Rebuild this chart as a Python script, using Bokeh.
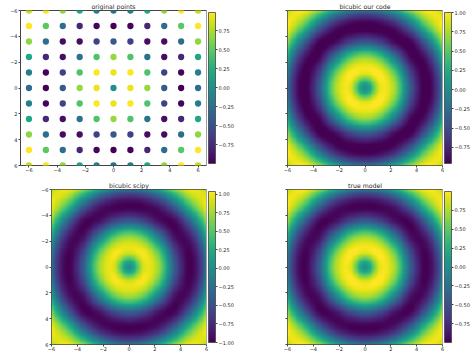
import numpy as np
from bokeh.plotting import figure
from bokeh.models import (LinearColorMapper, ColorBar, FixedTicker, Range1d,
                          CustomJSTickFormatter, ColumnDataSource)
from bokeh.layouts import column, row
from bokeh.palettes import Viridis256
from bokeh.embed import file_html
from bokeh.resources import INLINE

# ---------------- data ----------------
grid_coords = [-6.0, -4.8, -3.6, -2.4, -1.2, 0.0, 1.2, 2.4, 3.6, 4.8, 6.0]

# sampled values ("original points"), one row per y, from y=-6 (top) to y=6
row_y60 = [0.81, 0.99, 0.66, 0.18, -0.16, -0.28, -0.16, 0.18, 0.66, 0.99, 0.81]
row_y48 = [0.99, 0.48, -0.28, -0.79, -0.97, -1.00, -0.97, -0.79, -0.28, 0.48, 0.99]
row_y36 = [0.66, -0.28, -0.93, -0.93, -0.61, -0.44, -0.61, -0.93, -0.93, -0.28, 0.66]
row_y24 = [0.18, -0.79, -0.93, -0.25, 0.44, 0.68, 0.44, -0.25, -0.93, -0.79, 0.18]
row_y12 = [-0.16, -0.97, -0.61, 0.44, 0.99, 0.93, 0.99, 0.44, -0.61, -0.97, -0.16]
row_y00 = [-0.28, -1.00, -0.44, 0.68, 0.93, 0.00, 0.93, 0.68, -0.44, -1.00, -0.28]
sample_values = [row_y60, row_y48, row_y36, row_y24, row_y12, row_y00,
                 row_y12, row_y24, row_y36, row_y48, row_y60]

titles = ["original points", "bicubic our code", "bicubic scipy", "true model"]
cbar_low = [-1.00, -0.96, -1.00, -1.00]
cbar_high = [0.99, 1.00, 1.04, 1.00]
cbar_ticks = [
    [-0.75, -0.50, -0.25, 0.00, 0.25, 0.50, 0.75],
    [-0.75, -0.50, -0.25, 0.00, 0.25, 0.50, 0.75, 1.00],
    [-1.00, -0.75, -0.50, -0.25, 0.00, 0.25, 0.50, 0.75, 1.00],
    [-0.75, -0.50, -0.25, 0.00, 0.25, 0.50, 0.75],
]
axis_ticks = [-6, -4, -2, 0, 2, 4, 6]


# ---------------- bicubic (cubic convolution) of the samples ----------------
def bicubic(values, coords, n):
    f = np.asarray(values, float)
    c = np.asarray(coords, float)
    h = c[1] - c[0]

    def pad(a, axis):
        a = np.moveaxis(a, axis, 0)
        first = 3 * a[0] - 3 * a[1] + a[2]
        last = 3 * a[-1] - 3 * a[-2] + a[-3]
        a = np.concatenate([first[None], a, last[None]], axis=0)
        return np.moveaxis(a, 0, axis)

    fp = pad(pad(f, 0), 1)
    q = np.linspace(c[0], c[-1], n)
    t = (q - c[0]) / h
    i = np.clip(np.floor(t).astype(int), 0, len(c) - 2)
    u = t - i
    w = np.stack([(-u**3 + 2 * u**2 - u) / 2,
                  (3 * u**3 - 5 * u**2 + 2) / 2,
                  (-3 * u**3 + 4 * u**2 + u) / 2,
                  (u**3 - u**2) / 2], axis=1)
    M = np.zeros((n, len(c) + 2))
    for k in range(4):
        M[np.arange(n), i + k] += w[:, k]
    return M @ fp @ M.T


FONT = "DejaVu Sans"
TXT = "#262626"

axis_code = "return (tick < 0 ? '\u2212' : '') + Math.abs(tick).toString();"
cbar_code = "return (tick < -1e-9 ? '\u2212' : '') + Math.abs(tick).toFixed(2);"


def make_fig(idx, bl, br, bt, bb, fw, fh, xr, show_ylab):
    p = figure(frame_width=fw, frame_height=fh,
               min_border_left=bl, min_border_right=br,
               min_border_top=bt, min_border_bottom=bb,
               x_range=xr, y_range=Range1d(6, -6),
               output_backend="svg", toolbar_location=None, title=titles[idx])
    p.title.text_font = FONT
    p.title.text_font_size = "6.2px"
    p.title.text_font_style = "normal"
    p.title.text_color = TXT
    p.title.align = "center"
    p.title.standoff = 1
    p.grid.visible = False
    p.outline_line_color = "#444444"
    p.outline_line_width = 1
    p.background_fill_color = "white"
    p.border_fill_color = "white"
    for ax in p.axis:
        ax.ticker = FixedTicker(ticks=axis_ticks)
        ax.formatter = CustomJSTickFormatter(code=axis_code)
        ax.axis_line_color = None
        ax.major_tick_in = 0
        ax.major_tick_out = 2
        ax.major_tick_line_color = "#444444"
        ax.minor_tick_line_color = None
        ax.major_label_text_font = FONT
        ax.major_label_text_font_size = "5px"
        ax.major_label_text_color = TXT
        ax.major_label_standoff = 1
    p.xaxis.major_label_standoff = 0
    if not show_ylab:
        p.yaxis.major_label_text_color = None
    mapper = LinearColorMapper(palette=Viridis256, low=cbar_low[idx], high=cbar_high[idx])
    cb = ColorBar(color_mapper=mapper, ticker=FixedTicker(ticks=cbar_ticks[idx]),
                  formatter=CustomJSTickFormatter(code=cbar_code),
                  width=7, margin=0, padding=2,
                  major_tick_in=0, major_tick_out=2,
                  major_tick_line_color="#444444",
                  major_label_text_font=FONT, major_label_text_font_size="5px",
                  major_label_text_color=TXT, label_standoff=1,
                  bar_line_color="#444444", bar_line_width=0.8,
                  minor_tick_line_color=None)
    p.add_layout(cb, "right")
    return p, mapper


# top-left: scatter of original points
p1, m1 = make_fig(0, 20, 31, 10, 14, 186, 155, Range1d(-6.6, 6.6), True)
xs, ys = np.meshgrid(grid_coords, grid_coords)
src = ColumnDataSource(dict(x=xs.ravel(), y=ys.ravel(),
                            v=np.asarray(sample_values, float).ravel()))
p1.scatter("x", "y", source=src, size=6.3, line_color=None,
           fill_color={"field": "v", "transform": m1})

interp = bicubic(sample_values, grid_coords, 180)

p2, m2 = make_fig(1, 49, 31, 10, 14, 155, 155, Range1d(-6, 6), False)
p2.image(image=[interp], x=-6, y=-6, dw=12, dh=12, color_mapper=m2)

p3, m3 = make_fig(2, 51, 31, 10, 12, 155, 155, Range1d(-6, 6), True)
p3.image(image=[interp], x=-6, y=-6, dw=12, dh=12, color_mapper=m3)

p4, m4 = make_fig(3, 49, 31, 10, 12, 155, 155, Range1d(-6, 6), False)
p4.image(image=[interp], x=-6, y=-6, dw=12, dh=12, color_mapper=m4)

layout = column(row(p1, p2), row(p3, p4))
open("out.html", "w").write(file_html(layout, INLINE))
